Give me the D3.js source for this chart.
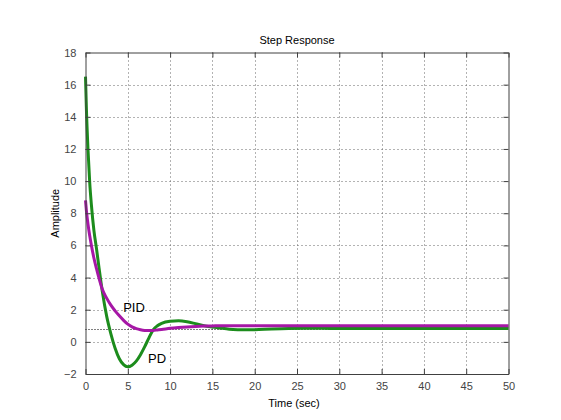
<!DOCTYPE html>
<html>
<head>
<meta charset="utf-8">
<script src="https://cdn.jsdelivr.net/npm/d3@7"></script>
<style>
  body { margin: 0; background: #fff; }
  svg { display: block; font-family: "Liberation Sans", Arial, sans-serif; }
</style>
</head>
<body>
<script>
      var w = 561; // width of SVG space
      var h = 420; // height of SVG space

      // data
      var time = [0, 0.1, 0.3, 0.5, 0.7, 1.0, 1.3, 1.6, 2.0, 2.5, 3.0, 3.5, 4.0, 4.5, 5.0, 5.5, 6.0, 6.5, 7.0, 7.5, 8.0, 8.5, 9.0, 10, 11, 12, 13, 14, 15, 16, 17, 18, 19, 20, 22, 24, 26, 28, 30, 35, 40, 45, 50];
      var pd   = [16.5, 14.6, 11.9, 9.9, 8.5, 6.9, 5.8, 4.6, 3.1, 1.6, 0.5, -0.4, -1.05, -1.42, -1.55, -1.45, -1.2, -0.8, -0.3, 0.25, 0.75, 1.0, 1.15, 1.28, 1.31, 1.25, 1.13, 1.0, 0.92, 0.85, 0.79, 0.76, 0.75, 0.76, 0.8, 0.83, 0.84, 0.84, 0.83, 0.83, 0.83, 0.83, 0.83];
      var pid  = [8.8, 8.2, 7.3, 6.6, 6.0, 5.2, 4.55, 3.95, 3.25, 2.72, 2.28, 1.93, 1.62, 1.34, 1.1, 0.93, 0.82, 0.75, 0.71, 0.7, 0.71, 0.74, 0.77, 0.84, 0.89, 0.93, 0.96, 0.98, 0.99, 1.0, 1.0, 1.0, 1.0, 1.0, 1.0, 1.0, 1.0, 1.0, 1.0, 1.0, 1.0, 1.0, 1.0];
      var steadyState = 0.83;
      var xTicks = [0, 5, 10, 15, 20, 25, 30, 35, 40, 45, 50];
      var yTicks = [-2, 0, 2, 4, 6, 8, 10, 12, 14, 16, 18];
      var curveLabels = [{name: "PID", t: 4.45, v: 1.85}, {name: "PD", t: 7.4, v: -1.32}];

      // plot box (top is a window property, so use other names)
      var pLeft = 85.5, pRight = 508.5, pTop = 52.5, pBottom = 374;

      var svg = d3.select("body").append("svg").attr("width", w).attr("height", h);

      var xScale = d3.scaleLinear().domain([0, 50]).range([pLeft, pRight]);
      var yScale = d3.scaleLinear().domain([-2, 18]).range([pBottom, pTop]);

      // dotted grid
      svg.append("g").selectAll("line").data(xTicks.slice(1, -1)).enter().append("line")
          .attr("x1", function (d) { return Math.round(xScale(d)) + 0.5; })
          .attr("x2", function (d) { return Math.round(xScale(d)) + 0.5; })
          .attr("y1", pTop).attr("y2", pBottom)
          .style("stroke", "#666").style("stroke-dasharray", "1,3");
      svg.append("g").selectAll("line").data(yTicks.slice(1, -1)).enter().append("line")
          .attr("y1", function (d) { return Math.round(yScale(d)) + 0.5; })
          .attr("y2", function (d) { return Math.round(yScale(d)) + 0.5; })
          .attr("x1", pLeft).attr("x2", pRight)
          .style("stroke", "#666").style("stroke-dasharray", "1,3");

      // steady state marker
      svg.append("line")
          .attr("x1", xScale(0)).attr("x2", xScale(50))
          .attr("y1", Math.round(yScale(steadyState)) + 0.5).attr("y2", Math.round(yScale(steadyState)) + 0.5)
          .style("stroke", "#000").style("stroke-dasharray", "1,2");

      // curves
      var line = d3.line()
          .x(function (d) { return xScale(d[0]); })
          .y(function (d) { return yScale(d[1]); })
          .curve(d3.curveMonotoneX);

      svg.append("path").datum(time.map(function (t, i) { return [t, pd[i]]; }))
          .attr("d", line)
          .style("fill", "none").style("stroke", "#1c8c1c").style("stroke-width", 3);
      svg.append("path").datum(time.map(function (t, i) { return [t, pid[i]]; }))
          .attr("d", line)
          .style("fill", "none").style("stroke", "#a617a6").style("stroke-width", 3);

      svg.selectAll("text.curve").data(curveLabels).enter().append("text")
          .attr("class", "curve")
          .text(function (d) { return d.name; })
          .attr("x", function (d) { return xScale(d.t); })
          .attr("y", function (d) { return yScale(d.v); })
          .style("font-size", "13px").style("fill", "#000");

      // axes with inward ticks, box around plot
      var xAxis = d3.axisBottom(xScale).tickValues(xTicks).tickSizeInner(-5).tickSizeOuter(0).tickPadding(8);
      var xg = svg.append("g").attr("transform", "translate(0," + pBottom + ")").call(xAxis);
      var xTop = d3.axisTop(xScale).tickValues(xTicks).tickSizeInner(-5).tickSizeOuter(0).tickFormat("");
      var xg2 = svg.append("g").attr("transform", "translate(0," + pTop + ")").call(xTop);

      var yAxis = d3.axisLeft(yScale).tickValues(yTicks).tickSizeInner(-5).tickSizeOuter(0).tickPadding(9);
      var yg = svg.append("g").attr("transform", "translate(" + pLeft + ",0)").call(yAxis);
      var yRight = d3.axisRight(yScale).tickValues(yTicks).tickSizeInner(-5).tickSizeOuter(0).tickFormat("");
      var yg2 = svg.append("g").attr("transform", "translate(" + pRight + ",0)").call(yRight);

      [xg, xg2, yg, yg2].forEach(function (g) {
          g.selectAll("path, line").style("stroke", "#404040");
          g.selectAll("text").style("font-size", "11px").style("fill", "#444").style("font-family", "\"Liberation Sans\", Arial, sans-serif");
      });

      svg.append("text").text("Step Response")
          .attr("x", (pLeft + pRight) / 2).attr("y", 44)
          .attr("text-anchor", "middle").style("font-size", "11px");
      svg.append("text").text("Time (sec)")
          .attr("x", (pLeft + pRight) / 2 - 3).attr("y", 407)
          .attr("text-anchor", "middle").style("font-size", "11px");
      svg.append("text").text("Amplitude")
          .attr("transform", "translate(59," + ((pTop + pBottom) / 2) + ") rotate(-90)")
          .attr("text-anchor", "middle").style("font-size", "11px");
</script>
</body>
</html>
